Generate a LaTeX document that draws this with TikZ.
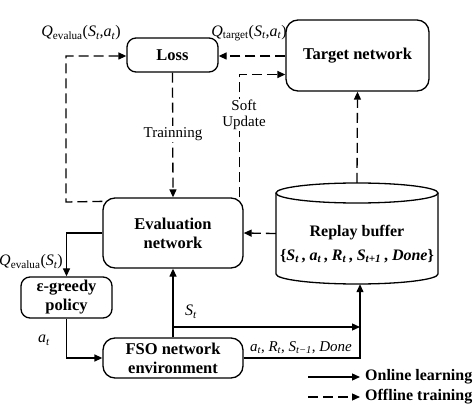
\documentclass[tikz,border=0pt]{standalone}
\usepackage{fontspec}
\setmainfont{Liberation Serif}
\usetikzlibrary{arrows.meta}
\newcommand{\lsub}[1]{\textsubscript{#1}}
\begin{document}
\begin{tikzpicture}[x=1pt,y=-1pt,
  box/.style={draw, line width=1.3pt, rounded corners=9pt, align=center,
    font=\bfseries\fontsize{16.5}{19}\selectfont, inner sep=0pt},
  on/.style={line width=1.3pt, -{Triangle[length=8pt,width=7pt]}},
  off/.style={on, dash pattern=on 10pt off 5pt},
  lbl/.style={font=\fontsize{15}{16}\selectfont, inner sep=1pt, align=center},
  qlbl/.style={font=\fontsize{16}{18}\selectfont, inner sep=0pt},
  leg/.style={font=\bfseries\fontsize{16}{18}\selectfont, inner sep=0pt, anchor=west},
]
\useasboundingbox (0,0) rectangle (474,406);

% boxes
\node[box, minimum width=91pt, minimum height=34pt] (loss) at (172.5,55) {Loss};
\node[box, minimum width=143pt, minimum height=71pt, rounded corners=12pt] (target) at (357.5,55.5) {Target network};
\node[box, minimum width=140pt, minimum height=70pt, rounded corners=12pt] (eval) at (173,233) {Evaluation\\network};
\node[box, minimum width=91pt, minimum height=41pt] (eg) at (66.5,297.5) {ε-greedy\\policy};
\node[box, minimum width=140pt, minimum height=40pt, rounded corners=12pt] (fso) at (173,358) {FSO network\\environment};

% replay buffer cylinder
\node[minimum width=162pt, minimum height=101pt, inner sep=0pt] (rb) at (357,233.5) {};
\draw[line width=1.3pt] (276,193) -- (276,274) arc[start angle=180, end angle=360, x radius=81pt, y radius=10pt] -- (438,193);
\draw[line width=1.3pt] (357,193) ellipse [x radius=81pt, y radius=10pt];
\node[align=center, font=\bfseries\fontsize{16}{24}\selectfont, inner sep=0pt] (rbt) at (357,244)
  {Replay buffer\\\{\textit{S\lsub{t}}\,, \textit{a\lsub{t}}\,, \textit{R\lsub{t}}\,, \textit{S\lsub{t+1}}\,, \textit{Done}\}};

% offline (dashed) connectors
\draw[off] (target.west |- 0,56) -- (loss.east |- 0,56);
\draw[off] ([yshift=-4pt]eval.north west) -- (66,202) -- (66,56) -- (loss.west |- 0,56);
\draw[off] (loss.south) -- (eval.north);
\draw[off] ([xshift=-4pt]eval.north east) |- ([yshift=-19pt]target.west);
\draw[off] (rb.north) -- (target.south);
\draw[off] (rb.west) -- (eval.east);

% online (solid) connectors
\draw[on] (eval.west) -| (eg.north);
\draw[on] (eg.south) |- (fso.west);
\draw[on] (fso.north) -- (eval.south);
\coordinate (corner) at (360,358);
\coordinate (br) at (173,327);
\draw[on] (fso.east) -- (corner) -- (corner |- rb.south);
\draw[on] (br) -- (br -| corner);

% labels
\node[qlbl] (lq1) at (81,33) {\textit{Q}\lsub{evalua}(\textit{S\lsub{t}},\textit{a\lsub{t}})};
\node[qlbl] (lq2) at (249,33) {\textit{Q}\lsub{target}(\textit{S\lsub{t}},\textit{a\lsub{t}})};
\node[qlbl] (lq3) at (31,262) {\textit{Q}\lsub{evalua}(\textit{S\lsub{t}})};
\node[qlbl] (la) at (44,340) {\textit{a\lsub{t}}};
\node[qlbl] (ls) at (191,312) {\textit{S\lsub{t}}};
\node[lbl] (lar) at (301,348) {\textit{a\lsub{t}}, \textit{R\lsub{t}}, \textit{S\lsub{t−1}}, \textit{Done}};
\node[lbl, fill=white] (ltr) at (173,134) {Trainning};
\node[lbl, fill=white] (lsu) at (244,115) {Soft\\Update};

% legend
\coordinate (l1a) at (308,377);
\coordinate (l1b) at (360,377);
\coordinate (l2a) at (308,397);
\coordinate (l2b) at (360,397);
\draw[on] (l1a) -- (l1b);
\draw[off] (l2a) -- (l2b);
\node[leg] (lon) at (365,377) {Online learning};
\node[leg] (loff) at (365,397) {Offline training};
\end{tikzpicture}
\end{document}
